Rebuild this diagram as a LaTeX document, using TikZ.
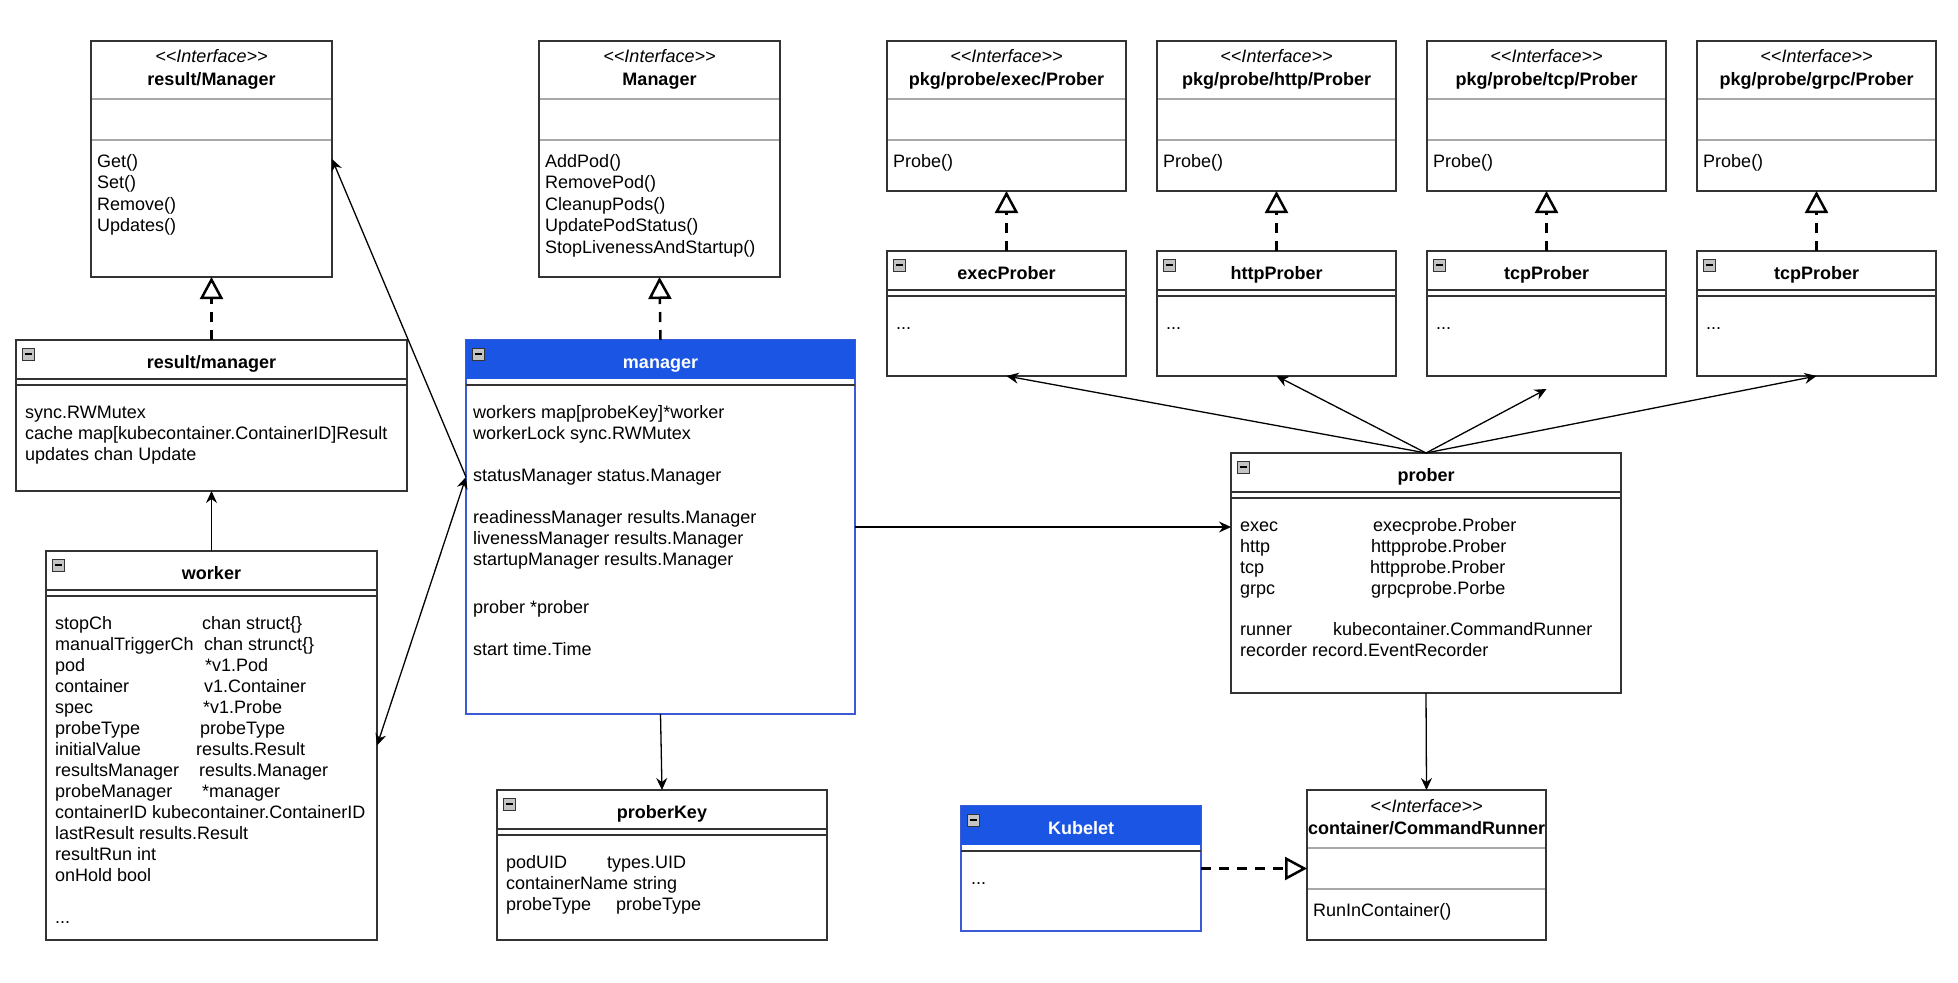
\documentclass[tikz,border=0pt]{standalone}
\usepackage{fontspec}
\setmainfont{Liberation Sans}
\usetikzlibrary{arrows.meta}

\definecolor{boxgray}{HTML}{333333}
\definecolor{sepgray}{HTML}{A8A8A8}
\definecolor{kblue}{HTML}{1A55E3}
\definecolor{kborder}{HTML}{3B5BD6}
\definecolor{icongray}{HTML}{C4C4C4}

\newcommand{\fs}{\fontsize{18}{21}\selectfont}
\newcommand{\fld}[3]{\makebox[#1][l]{#2}#3}
\newcommand{\rows}[1]{\begin{tabular}[t]{@{}l@{}}#1\end{tabular}}
\newcommand{\stereo}{<\kern0pt<Interface>\kern0pt>}

\tikzset{
  box/.style={draw=boxgray, line width=1.5pt, fill=white, rectangle,
    inner sep=0pt, outer sep=0pt, anchor=north west},
  sep/.style={draw=sepgray, line width=1.2pt},
  hdr/.style={draw=boxgray, line width=1.5pt},
  ttl/.style={font=\fs\bfseries, inner sep=0pt, anchor=base},
  lbl/.style={font=\fs, inner sep=0pt, anchor=base west},
  assoc/.style={draw=black, line width=1.3pt, -{Stealth[length=12pt,width=11pt,inset=4pt]}},
  real/.style={draw=black, line width=2.5pt, dash pattern=on 10pt off 8pt,
    -{Triangle[open,length=22pt,width=23pt]}},
}

% collapse icon in a class header
\newcommand{\collapsebox}[2]{%
  \draw[boxgray, fill=icongray, line width=1pt] (#1+6,#2+8) rectangle (#1+18,#2+20);
  \draw[black, line width=2pt] (#1+8.5,#2+14) -- (#1+15.5,#2+14);}

% interface: name, x, y, width, height, title, methods
\newcommand{\iface}[7]{%
  \node[box, minimum width=#4pt, minimum height=#5pt] (#1) at (#2,#3) {};
  \draw[sep] (#2+1,#3+58) -- (#2+#4-1,#3+58);
  \draw[sep] (#2+1,#3+99) -- (#2+#4-1,#3+99);
  \node[ttl, font=\fs\itshape] at (#2+#4/2,#3+22) {\stereo};
  \node[ttl] at (#2+#4/2,#3+44) {#6};
  \node[lbl, font=\fontsize{18}{21.5}\selectfont] at (#2+6,#3+126) {\rows{#7}};}

% class: name, x, y, width, height, title, fields
\newcommand{\cls}[7]{%
  \node[box, minimum width=#4pt, minimum height=#5pt] (#1) at (#2,#3) {};
  \draw[hdr] (#2,#3+39) -- (#2+#4,#3+39);
  \draw[hdr] (#2,#3+45) -- (#2+#4,#3+45);
  \collapsebox{#2}{#3}
  \node[ttl] at (#2+#4/2,#3+28) {#6};
  \node[lbl] at (#2+9,#3+78) {\rows{#7}};}

\begin{document}
\begin{tikzpicture}[x=1pt, y=-1pt]
    \fill[white] (0,0) rectangle (1958,982);
    \useasboundingbox (0,0) rectangle (1958,982);

    % Interfaces
    \iface{rmi}{91}{41}{241}{236}{result/Manager}{Get()\\Set()\\Remove()\\Updates()}
    \iface{mgi}{539}{41}{241}{236}{Manager}{AddPod()\\RemovePod()\\CleanupPods()\\UpdatePodStatus()\\StopLivenessAndStartup()}
    \iface{exi}{887}{41}{239}{150}{pkg/probe/exec/Prober}{Probe()}
    \iface{hti}{1157}{41}{239}{150}{pkg/probe/http/Prober}{Probe()}
    \iface{tci}{1427}{41}{239}{150}{pkg/probe/tcp/Prober}{Probe()}
    \iface{gri}{1697}{41}{239}{150}{pkg/probe/grpc/Prober}{Probe()}
    \iface{cri}{1307}{790}{239}{150}{container/CommandRunner}{RunInContainer()}

    % Prober classes
    \cls{exc}{887}{251}{239}{125}{execProber}{...}
    \cls{htc}{1157}{251}{239}{125}{httpProber}{...}
    \cls{tcc}{1427}{251}{239}{125}{tcpProber}{...}
    \cls{grc}{1697}{251}{239}{125}{tcpProber}{...}

    % Classes
    \cls{rml}{16}{340}{391}{151}{result/manager}{sync.RWMutex\\
        cache map[kubecontainer.ContainerID]Result\\updates chan Update}
    \cls{wrk}{46}{551}{331}{389}{worker}{\fld{147pt}{stopCh}{chan struct\{\}}\\
        \fld{149pt}{manualTriggerCh}{chan strunct\{\}}\\
        \fld{150pt}{pod}{*v1.Pod}\\
        \fld{149pt}{container}{v1.Container}\\
        \fld{148pt}{spec}{*v1.Probe}\\
        \fld{145pt}{probeType}{probeType}\\
        \fld{141pt}{initialValue}{results.Result}\\
        \fld{144pt}{resultsManager}{results.Manager}\\
        \fld{147pt}{probeManager}{*manager}\\
        containerID kubecontainer.ContainerID\\
        lastResult results.Result\\
        resultRun int\\
        onHold bool\\[21pt]
        ...}
    \cls{pkey}{497}{790}{330}{150}{proberKey}{\fld{101pt}{podUID}{types.UID}\\
        containerName string\\
        \fld{110pt}{probeType}{probeType}}
    \cls{prb}{1231}{453}{390}{240}{prober}{\fld{133pt}{exec}{execprobe.Prober}\\
        \fld{131pt}{http}{httpprobe.Prober}\\
        \fld{130pt}{tcp}{httpprobe.Prober}\\
        \fld{131pt}{grpc}{grpcprobe.Porbe}\\[20pt]
        \fld{93pt}{runner}{kubecontainer.CommandRunner}\\
        recorder record.EventRecorder}

    % manager (blue)
    \node[box, draw=kborder, minimum width=389pt, minimum height=374pt] (mgr) at (466,340) {};
    \fill[kblue] (466,340) rectangle (855,379);
    \draw[hdr] (466,385) -- (855,385);
    \collapsebox{466}{340}
    \node[ttl, text=white] at (660.5,368) {manager};
    \node[lbl] at (473,418) {\rows{workers map[probeKey]*worker\\
        workerLock sync.RWMutex\\[21pt]
        statusManager status.Manager\\[21pt]
        readinessManager results.Manager\\
        livenessManager results.Manager\\
        startupManager results.Manager\\[27pt]
        prober *prober\\[21pt]
        start time.Time}};

    % Kubelet (blue)
    \node[box, draw=kborder, minimum width=240pt, minimum height=125pt] (kub) at (961,806) {};
    \fill[kblue] (961,806) rectangle (1201,845);
    \draw[hdr] (961,851) -- (1201,851);
    \collapsebox{961}{806}
    \node[ttl, text=white] at (1081,834) {Kubelet};
    \node[lbl] at (971,884) {...};

    % Realizations
    \draw[real] (rml.north) -- (rmi.south);
    \draw[real] (mgr.north) -- (mgi.south);
    \draw[real] (exc.north) -- (exi.south);
    \draw[real] (htc.north) -- (hti.south);
    \draw[real] (tcc.north) -- (tci.south);
    \draw[real] (grc.north) -- (gri.south);
    \draw[real] (kub.east) -- (kub.east -| cri.west);

    % Associations
    \coordinate (mgrl) at ([yshift=50pt]mgr.west);
    \draw[assoc] (wrk.north) -- (rml.south);
    \draw[assoc] (mgrl) -- (rmi.east);
    \draw[assoc, {Stealth[length=12pt,width=11pt,inset=4pt]}-{Stealth[length=12pt,width=11pt,inset=4pt]}] (wrk.east) -- (mgrl);
    \draw[assoc] (mgr.south) -- (pkey.north);
    \draw[assoc] (mgr.east) -- (mgr.east -| prb.west);
    \draw[assoc] (prb.north) -- (exc.south);
    \draw[assoc] (prb.north) -- (htc.south);
    \draw[assoc] (prb.north) -- ([yshift=-13pt]tcc.south);
    \draw[assoc] (prb.north) -- (grc.south);
    \draw[assoc] (prb.south) -- (cri.north);
\end{tikzpicture}
\end{document}
